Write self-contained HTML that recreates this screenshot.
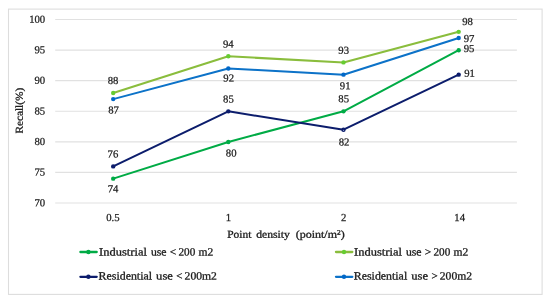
<!DOCTYPE html>
<html><head><meta charset="utf-8"><title>Recall chart</title>
<style>
html,body{margin:0;padding:0;background:#fff;}
svg{display:block;}
text{text-rendering:geometricPrecision;font-family:"Liberation Serif",serif;fill:#1c1c1c;stroke:#1c1c1c;stroke-width:0.3px;}
.d{font-size:10.7px;stroke-width:0.25px;}
</style></head><body>
<svg width="550" height="301" viewBox="0 0 550 301">
<defs><filter id="soft" x="0" y="0" width="550" height="301" filterUnits="userSpaceOnUse"><feGaussianBlur stdDeviation="0.32"/></filter></defs>
<rect x="0" y="0" width="550" height="301" fill="#ffffff"/>
<g filter="url(#soft)">
<rect x="8.5" y="9.1" width="533.6" height="285.3" fill="#ffffff" stroke="#DDDDDD" stroke-width="1.1"/>

<line x1="55.2" y1="203.00" x2="516.9" y2="203.00" stroke="#E1E1E1" stroke-width="1.2"/>
<text class="d" transform="translate(45.2,206.20) rotate(0.06)" text-anchor="end">70</text>
<line x1="55.2" y1="172.42" x2="516.9" y2="172.42" stroke="#E1E1E1" stroke-width="1.2"/>
<text class="d" transform="translate(45.2,175.62) rotate(0.06)" text-anchor="end">75</text>
<line x1="55.2" y1="141.83" x2="516.9" y2="141.83" stroke="#E1E1E1" stroke-width="1.2"/>
<text class="d" transform="translate(45.2,145.03) rotate(0.06)" text-anchor="end">80</text>
<line x1="55.2" y1="111.25" x2="516.9" y2="111.25" stroke="#E1E1E1" stroke-width="1.2"/>
<text class="d" transform="translate(45.2,114.45) rotate(0.06)" text-anchor="end">85</text>
<line x1="55.2" y1="80.67" x2="516.9" y2="80.67" stroke="#E1E1E1" stroke-width="1.2"/>
<text class="d" transform="translate(45.2,83.87) rotate(0.06)" text-anchor="end">90</text>
<line x1="55.2" y1="50.08" x2="516.9" y2="50.08" stroke="#E1E1E1" stroke-width="1.2"/>
<text class="d" transform="translate(45.2,53.28) rotate(0.06)" text-anchor="end">95</text>
<line x1="55.2" y1="19.50" x2="516.9" y2="19.50" stroke="#E1E1E1" stroke-width="1.2"/>
<text class="d" transform="translate(45.2,22.70) rotate(0.06)" text-anchor="end">100</text>
<polyline points="113.2,178.63 228.3,141.93 343.5,111.35 458.7,50.18" fill="none" stroke="#00AB45" stroke-width="2.05" stroke-linejoin="round" stroke-linecap="round"/>
<circle cx="113.2" cy="178.63" r="2.2" fill="#00AB45"/>
<circle cx="228.3" cy="141.93" r="2.2" fill="#00AB45"/>
<circle cx="343.5" cy="111.35" r="2.2" fill="#00AB45"/>
<circle cx="458.7" cy="50.18" r="2.2" fill="#00AB45"/>
<polyline points="113.2,166.40 228.3,111.35 343.5,129.70 458.7,74.65" fill="none" stroke="#0B1E6C" stroke-width="2.05" stroke-linejoin="round" stroke-linecap="round"/>
<circle cx="113.2" cy="166.40" r="2.2" fill="#0B1E6C"/>
<circle cx="228.3" cy="111.35" r="2.2" fill="#0B1E6C"/>
<circle cx="343.5" cy="129.70" r="2.2" fill="#0B1E6C"/>
<circle cx="458.7" cy="74.65" r="2.2" fill="#0B1E6C"/>
<polyline points="113.2,99.12 228.3,68.53 343.5,74.65 458.7,37.95" fill="none" stroke="#0A72C8" stroke-width="2.05" stroke-linejoin="round" stroke-linecap="round"/>
<circle cx="113.2" cy="99.12" r="2.2" fill="#0668C8"/>
<circle cx="228.3" cy="68.53" r="2.2" fill="#0668C8"/>
<circle cx="343.5" cy="74.65" r="2.2" fill="#0668C8"/>
<circle cx="458.7" cy="37.95" r="2.2" fill="#0668C8"/>
<polyline points="113.2,93.00 228.3,56.30 343.5,62.42 458.7,31.83" fill="none" stroke="#8ABD3C" stroke-width="2.05" stroke-linejoin="round" stroke-linecap="round"/>
<circle cx="113.2" cy="93.00" r="2.2" fill="#66CC33"/>
<circle cx="228.3" cy="56.30" r="2.2" fill="#66CC33"/>
<circle cx="343.5" cy="62.42" r="2.2" fill="#66CC33"/>
<circle cx="458.7" cy="31.83" r="2.2" fill="#66CC33"/>
<circle cx="343.6" cy="130.30" r="0.6" fill="#98A6D6"/>
<text class="d" transform="translate(113.0,84.0) rotate(0.06)" text-anchor="middle">88</text>
<text class="d" transform="translate(113.5,113.4) rotate(0.06)" text-anchor="middle">87</text>
<text class="d" transform="translate(112.9,157.6) rotate(0.06)" text-anchor="middle">76</text>
<text class="d" transform="translate(113.1,192.3) rotate(0.06)" text-anchor="middle">74</text>
<text class="d" transform="translate(228.3,47.6) rotate(0.06)" text-anchor="middle">94</text>
<text class="d" transform="translate(228.7,81.4) rotate(0.06)" text-anchor="middle">92</text>
<text class="d" transform="translate(228.4,102.6) rotate(0.06)" text-anchor="middle">85</text>
<text class="d" transform="translate(231.2,156.4) rotate(0.06)" text-anchor="middle">80</text>
<text class="d" transform="translate(343.7,53.8) rotate(0.06)" text-anchor="middle">93</text>
<text class="d" transform="translate(345.2,89.2) rotate(0.06)" text-anchor="middle">91</text>
<text class="d" transform="translate(343.7,102.2) rotate(0.06)" text-anchor="middle">85</text>
<text class="d" transform="translate(344.0,145.4) rotate(0.06)" text-anchor="middle">82</text>
<text class="d" transform="translate(467.5,25.0) rotate(0.06)" text-anchor="middle">98</text>
<text class="d" transform="translate(469.0,42.0) rotate(0.06)" text-anchor="middle">97</text>
<text class="d" transform="translate(469.0,52.0) rotate(0.06)" text-anchor="middle">95</text>
<text class="d" transform="translate(469.5,76.8) rotate(0.06)" text-anchor="middle">91</text>
<text class="d" transform="translate(112.9,220.9) rotate(0.06)" text-anchor="middle">0.5</text>
<text class="d" transform="translate(228.5,220.9) rotate(0.06)" text-anchor="middle">1</text>
<text class="d" transform="translate(343.7,220.9) rotate(0.06)" text-anchor="middle">2</text>
<text class="d" transform="translate(459.7,220.9) rotate(0.06)" text-anchor="middle">14</text>
<text transform="translate(227.2,237.8) rotate(0.06)" font-size="10.6px" textLength="24.2" lengthAdjust="spacingAndGlyphs">Point</text>
<text transform="translate(256.3,237.8) rotate(0.06)" font-size="10.6px" textLength="33.6" lengthAdjust="spacingAndGlyphs">density</text>
<text transform="translate(295.8,237.8) rotate(0.06)" font-size="10.6px" textLength="48.9" lengthAdjust="spacingAndGlyphs">(point/m<tspan font-size="6.6px" dy="-3.3">2</tspan><tspan dy="3.3">)</tspan></text>
<text transform="translate(22.7,133.6) rotate(-89.94)" font-size="10.6px" textLength="45.8" lengthAdjust="spacingAndGlyphs">Recall(%)</text>
<line x1="80.4" y1="252.0" x2="96.7" y2="252.0" stroke="#00AB45" stroke-width="2.3" stroke-linecap="round"/>
<circle cx="88.4" cy="252.0" r="2.2" fill="#00AB45"/>
<text transform="translate(99.1,255.4) rotate(0.06)" font-size="11.1px" textLength="47.8" lengthAdjust="spacingAndGlyphs">Industrial</text>
<text transform="translate(150.9,255.4) rotate(0.06)" font-size="11.1px" textLength="15.7" lengthAdjust="spacingAndGlyphs">use</text>
<text transform="translate(169.7,255.4) rotate(0.06)" font-size="11.1px" textLength="6.5" lengthAdjust="spacingAndGlyphs">&lt;</text>
<text transform="translate(178.5,255.4) rotate(0.06)" font-size="11.1px" textLength="16.8" lengthAdjust="spacingAndGlyphs">200</text>
<text transform="translate(198.4,255.4) rotate(0.06)" font-size="11.1px" textLength="14.8" lengthAdjust="spacingAndGlyphs">m2</text>
<line x1="336.0" y1="252.0" x2="352.3" y2="252.0" stroke="#8ABD3C" stroke-width="2.3" stroke-linecap="round"/>
<circle cx="344.0" cy="252.0" r="2.2" fill="#66CC33"/>
<text transform="translate(354.1,255.4) rotate(0.06)" font-size="11.1px" textLength="47.8" lengthAdjust="spacingAndGlyphs">Industrial</text>
<text transform="translate(405.9,255.4) rotate(0.06)" font-size="11.1px" textLength="15.7" lengthAdjust="spacingAndGlyphs">use</text>
<text transform="translate(424.7,255.4) rotate(0.06)" font-size="11.1px" textLength="6.5" lengthAdjust="spacingAndGlyphs">&gt;</text>
<text transform="translate(433.5,255.4) rotate(0.06)" font-size="11.1px" textLength="16.8" lengthAdjust="spacingAndGlyphs">200</text>
<text transform="translate(453.4,255.4) rotate(0.06)" font-size="11.1px" textLength="14.8" lengthAdjust="spacingAndGlyphs">m2</text>
<line x1="80.4" y1="276.8" x2="96.7" y2="276.8" stroke="#0B1E6C" stroke-width="2.3" stroke-linecap="round"/>
<circle cx="88.4" cy="276.8" r="2.2" fill="#0B1E6C"/>
<text transform="translate(98.6,279.4) rotate(0.06)" font-size="11.1px" textLength="53.4" lengthAdjust="spacingAndGlyphs">Residential</text>
<text transform="translate(156.1,279.4) rotate(0.06)" font-size="11.1px" textLength="16.8" lengthAdjust="spacingAndGlyphs">use</text>
<text transform="translate(176.3,279.4) rotate(0.06)" font-size="11.1px" textLength="6.2" lengthAdjust="spacingAndGlyphs">&lt;</text>
<text transform="translate(184.6,279.4) rotate(0.06)" font-size="11.1px" textLength="32.3" lengthAdjust="spacingAndGlyphs">200m2</text>
<line x1="336.0" y1="276.8" x2="352.3" y2="276.8" stroke="#0A72C8" stroke-width="2.3" stroke-linecap="round"/>
<circle cx="344.0" cy="276.8" r="2.2" fill="#0668C8"/>
<text transform="translate(353.8,279.4) rotate(0.06)" font-size="11.1px" textLength="53.4" lengthAdjust="spacingAndGlyphs">Residential</text>
<text transform="translate(411.3,279.4) rotate(0.06)" font-size="11.1px" textLength="16.8" lengthAdjust="spacingAndGlyphs">use</text>
<text transform="translate(431.5,279.4) rotate(0.06)" font-size="11.1px" textLength="6.2" lengthAdjust="spacingAndGlyphs">&gt;</text>
<text transform="translate(439.8,279.4) rotate(0.06)" font-size="11.1px" textLength="32.3" lengthAdjust="spacingAndGlyphs">200m2</text>
</g></svg></body></html>
